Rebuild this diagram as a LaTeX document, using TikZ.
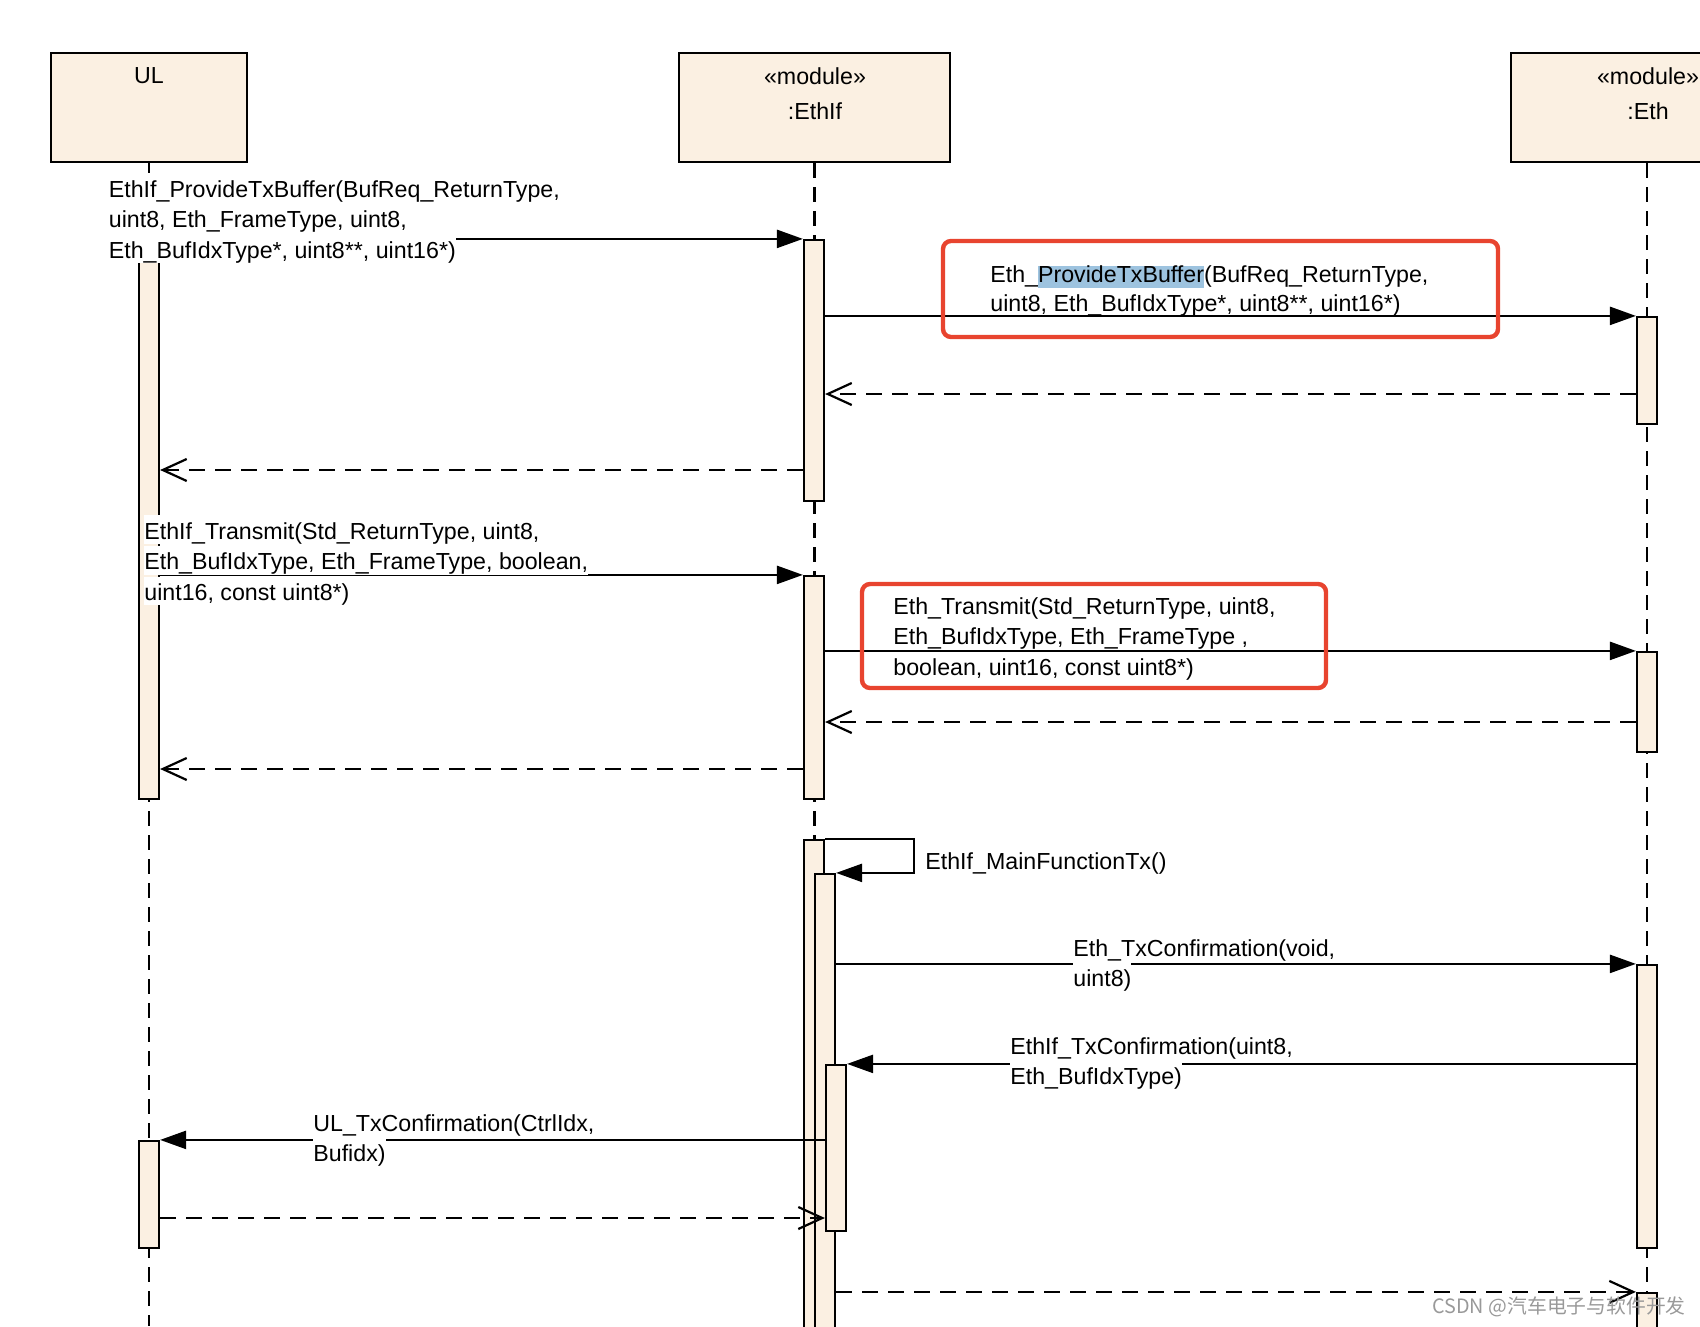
\documentclass[tikz,border=0pt]{standalone}
\usepackage{fontspec}
\setmainfont{Liberation Sans}
\newfontfamily\cjkfont{Noto Sans CJK SC}
\usepackage{tikz}
\usetikzlibrary{arrows.meta, fit, positioning}
\definecolor{headfill}{HTML}{FBF0E2}
\definecolor{markred}{HTML}{E8442F}
\definecolor{selblue}{HTML}{9DC3DF}
\newcommand{\wbg}[1]{{\setlength{\fboxsep}{0pt}\colorbox{white}{\rule[-2.4pt]{0pt}{14.3pt}#1}}}
\newcommand{\selbg}[1]{{\setlength{\fboxsep}{0pt}\colorbox{selblue}{\rule[-2.5pt]{0pt}{10.9pt}#1}}}
\tikzset{
	headbox/.style={
			draw=black,
			line width=1.3pt,
			fill=headfill,
			inner sep=0pt
		},
	headtext/.style={
			inner sep=0pt,
			font=\fontsize{11.6}{14.3}\selectfont
		},
	actbar/.style={
			draw=black,
			line width=1.1pt,
			fill=headfill,
			inner sep=0pt
		},
	lifeline/.style={
			line width=1.1pt,
			dash pattern=on 7.5pt off 4.5pt
		},
	callmsg/.style={
			line width=1.2pt,
			-{Triangle[length=13pt, width=9pt]}
		},
	retmsg/.style={
			line width=1.2pt,
			dash pattern=on 8pt off 5pt,
			-{Straight Barb[length=12pt, width=11pt, line width=1.1pt]}
		},
	msglabel/.style={
			anchor=west,
			align=left,
			inner sep=0pt,
			font=\fontsize{11.6}{14.3}\selectfont
		},
	redframe/.style={
			draw=markred,
			line width=2.2pt,
			rounded corners=4pt,
			inner sep=0pt
		}
}

\begin{document}
\begin{tikzpicture}[x=0.5pt, y=-0.5pt]
\useasboundingbox (0,0) rectangle (1700,1326);
\clip (0,0) rectangle (1700,1326);

\node[headbox, fit={(51,53) (247,162)}] (ul) {};
\node[headbox, fit={(679,53) (950,162)}] (ethif) {};
\node[headbox, fit={(1511,53) (1783,162)}] (eth) {};
\node[headtext] (ulname) at (149,76) {UL};
\node[headtext] (ifster) at (815,76) {«module»};
\node[headtext] (ifname) at (815,111) {:EthIf};
\node[headtext] (ethster) at (1648,76) {«module»};
\node[headtext] (ethname) at (1648,111) {:Eth};

\coordinate (bottom) at (0,1326);
\draw[lifeline] (ul.south) -- (ul.south |- bottom);
\draw[lifeline] (ethif.south) -- (ethif.south |- bottom);
\draw[lifeline] (eth.south) -- (eth.south |- bottom);

\node[actbar, fit={(139,259) (159,799)}] (a1) {};
\node[actbar, fit={(139,1141) (159,1248)}] (a2) {};
\node[actbar, fit={(804,240) (824,501)}] (b1) {};
\node[actbar, fit={(804,576) (824,799)}] (b2) {};
\node[actbar, fit={(804,840) (824,1340)}] (b3) {};
\node[actbar, fit={(815,874) (835,1340)}] (b4) {};
\node[actbar, fit={(826,1065) (846,1231)}] (b5) {};
\node[actbar, fit={(1637,317) (1657,424)}] (c1) {};
\node[actbar, fit={(1637,652) (1657,752)}] (c2) {};
\node[actbar, fit={(1637,965) (1657,1248)}] (c3) {};
\node[actbar, fit={(1637,1293) (1657,1340)}] (c4) {};

\coordinate (r3) at (0,394);
\coordinate (r4) at (0,470);
\coordinate (r7) at (0,722);
\coordinate (r8) at (0,769);
\coordinate (r13) at (0,1218);
\coordinate (selfx) at (914,0);

\draw[callmsg] (ul.south |- b1.north) -- (b1.north west);
\draw[callmsg] (b1.east |- c1.north) -- (c1.north west);
\draw[retmsg] (c1.west |- r3) -- (b1.east |- r3);
\draw[retmsg] (b1.west |- r4) -- (a1.east |- r4);
\draw[callmsg] (a1.east |- b2.north) -- (b2.north west);
\draw[callmsg] (b2.east |- c2.north) -- (c2.north west);
\draw[retmsg] (c2.west |- r7) -- (b2.east |- r7);
\draw[retmsg] (b2.west |- r8) -- (a1.east |- r8);
\draw[callmsg] (b3.north east) -| (selfx |- b4.north) -- (b4.north east);
\draw[callmsg] (b4.east |- c3.north) -- (c3.north west);
\draw[callmsg] (c3.west |- b5.north) -- (b5.north east);
\draw[callmsg] (b5.west |- a2.north) -- (a2.north east);
\draw[retmsg] (a2.east |- r13) -- (b5.west |- r13);
\draw[retmsg] (b4.east |- c4.north) -- (c4.north west);

\node[msglabel] (l1) at (108.5,218.4) {\wbg{EthIf\_ProvideTxBuffer(BufReq\_ReturnType,}\\\wbg{uint8, Eth\_FrameType, uint8,}\\\wbg{Eth\_BufIdxType*, uint8**, uint16*)}};
\node[msglabel] (l2) at (990,291.3) {Eth\_\selbg{ProvideTxBuffer}(BufReq\_ReturnType,\\uint8, Eth\_BufIdxType*, uint8**, uint16*)};
\node[msglabel] (l5) at (144,560.4) {\wbg{EthIf\_Transmit(Std\_ReturnType, uint8,}\\\wbg{Eth\_BufIdxType, Eth\_FrameType, boolean,}\\\wbg{uint16, const uint8*)}};
\node[msglabel] (l6) at (893,635.2) {\wbg{Eth\_Transmit(Std\_ReturnType, uint8,}\\\wbg{Eth\_BufIdxType, Eth\_FrameType ,}\\\wbg{boolean, uint16, const uint8*)}};
\node[msglabel] (l9) at (925,863) {EthIf\_MainFunctionTx()};
\node[msglabel] (l10) at (1073,962.1) {\wbg{Eth\_TxConfirmation(void,}\\\wbg{uint8)}};
\node[msglabel] (l11) at (1010,1060.1) {\wbg{EthIf\_TxConfirmation(uint8,}\\\wbg{Eth\_BufIdxType)}};
\node[msglabel] (l12) at (313,1137.1) {\wbg{UL\_TxConfirmation(CtrlIdx,}\\\wbg{Bufidx)}};

\node[redframe, fit={(943,241) (1498,337)}] (rf1) {};
\node[redframe, fit={(862,584) (1326,688)}] (rf2) {};

\node[anchor=east, inner sep=0pt, text=black!40, font=\cjkfont\fontsize{9.9}{12}\selectfont] (mark) at (1686,1307) {CSDN @汽车电子与软件开发};
\end{tikzpicture}
\end{document}
